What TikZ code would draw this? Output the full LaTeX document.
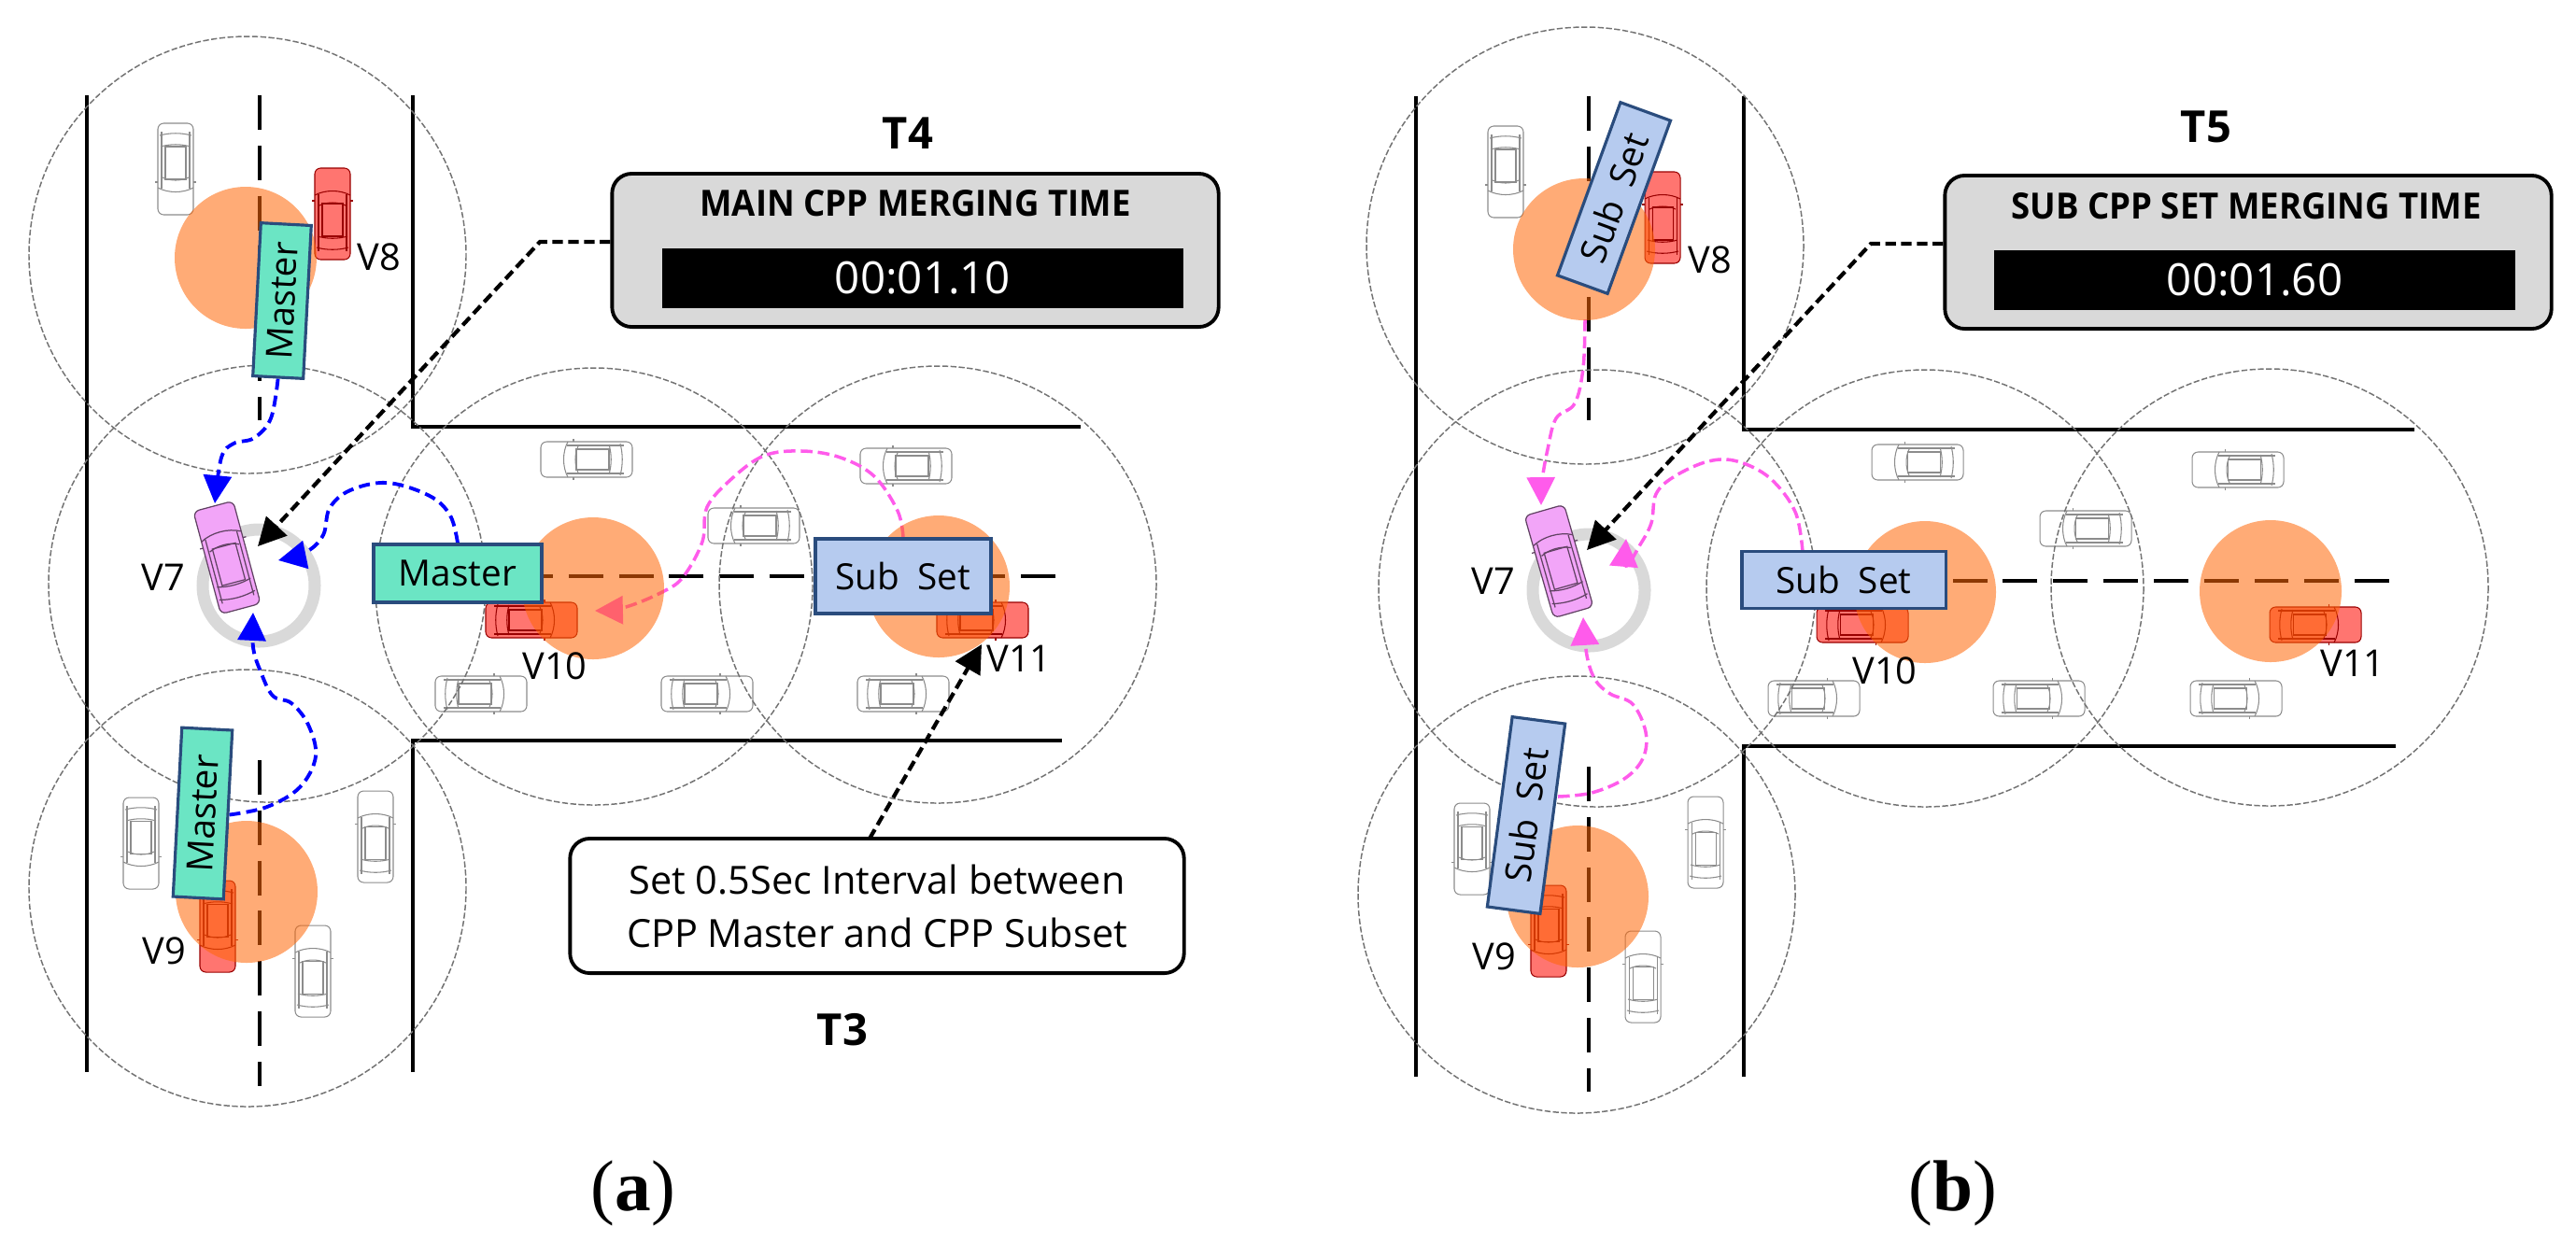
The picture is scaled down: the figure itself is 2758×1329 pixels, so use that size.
\documentclass[tikz,border=0pt]{standalone}
\usepackage{fontspec}
\setmainfont{Open Sans}
\newfontfamily\titlefont[FakeStretch=0.945]{Open Sans}
\newfontfamily\capfont{Liberation Serif}
\usetikzlibrary{arrows.meta, positioning}
\pgfdeclarelayer{front}
\pgfsetlayers{main,front}
\definecolor{boxgreen}{HTML}{6BE5C4}
\definecolor{boxblue}{HTML}{B6CBEF}
\definecolor{boxedge}{HTML}{2A4C7D}
\definecolor{pathpink}{HTML}{FF5BEB}
\definecolor{glow}{HTML}{FF6606}
\definecolor{panelgray}{HTML}{D9D9D9}
\definecolor{carred}{HTML}{FF7570}
\definecolor{carpurple}{HTML}{F2A5F8}
\tikzset{
    car/.pic={
        \draw[pic actions, rounded corners=1.8pt] (-19,-49) rectangle (19,49);
        \draw[pic actions, fill=none] (-15,-21) -- (-15,40) (15,-21) -- (15,40);
        \draw[pic actions, fill=none] (-19,-20) .. controls (-8,-26) and (8,-26) .. (19,-20);
        \draw[pic actions, fill=none] (-14,-9) .. controls (-6,-13) and (6,-13) .. (14,-9);
        \draw[pic actions, fill=none] (-11,-11) rectangle (11,24);
        \draw[pic actions, fill=none] (-16,24) .. controls (-6,27) and (6,27) .. (16,24);
        \draw[pic actions, fill=none] (-17,36) .. controls (-6,39) and (6,39) .. (17,36);
        \draw[pic actions, fill=none] (-22,-14) -- (-19,-14) (19,-14) -- (22,-14);
    }
}
\begin{document}
\begin{tikzpicture}[
        x=0.01cm, y=-0.01cm,
        whitecar/.style={draw=black!45, line width=.3pt},
        redcar/.style={draw=red!60!black, fill=carred, line width=.3pt},
        purplecar/.style={draw=black!60!carpurple, fill=carpurple, line width=.35pt},
        road/.style={line width=1.25pt},
        lane/.style={line width=1.15pt, dash pattern=on 10.5pt off 4.8pt},
        rangecircle/.style={draw=black!55, line width=.42pt, dash pattern=on 1.8pt off .7pt},
        glowspot/.style={fill=glow, fill opacity=.55},
        targetring/.style={draw=panelgray, line width=3.7pt},
        masterbox/.style={draw=boxedge, fill=boxgreen, line width=.9pt, inner sep=0pt, font=\fontsize{11}{13}\selectfont},
        subsetbox/.style={draw=boxedge, fill=boxblue, line width=.9pt, inner sep=0pt, font=\fontsize{11}{13}\selectfont},
        vlabel/.style={inner sep=0pt, font=\fontsize{11.3}{13}\selectfont},
        timelabel/.style={inner sep=0pt, font=\fontsize{13.4}{15}\selectfont\bfseries},
        timebox/.style={draw, fill=panelgray, line width=1.1pt, rounded corners=6pt, minimum width=6.49cm, minimum height=1.64cm},
        timebar/.style={fill=black, text=white, inner sep=0pt, minimum width=5.58cm, minimum height=.635cm, font=\fontsize{13.5}{15}\selectfont},
        timetitle/.style={inner sep=0pt, font=\titlefont\fontsize{11}{13}\selectfont\bfseries},
        notebox/.style={draw, fill=white, line width=1.1pt, rounded corners=6pt, align=center, minimum width=6.57cm, minimum height=1.44cm, inner sep=0pt, font=\fontsize{11.8}{16.2}\selectfont},
        capt/.style={inner sep=0pt, font=\capfont\fontsize{22}{26}\selectfont},
        bluepath/.style={draw=blue, line width=1.1pt, dash pattern=on 3.4pt off 1.8pt, -{Triangle[length=8.5pt,width=8.5pt]}},
        pinkpath/.style={draw=pathpink, line width=1pt, dash pattern=on 3.6pt off 1.6pt, -{Triangle[length=8.5pt,width=8.5pt]}},
        callout/.style={line width=1.2pt, dash pattern=on 3.2pt off 1.6pt, -{Triangle[length=8.5pt,width=8.5pt]}}
    ]
    \useasboundingbox (0,0) rectangle (2758,1329);

    % Boxes sit above everything else
    \begin{pgfonlayer}{front}
        \node[masterbox, rotate=87, minimum width=1.64cm, minimum height=.54cm] (master8) at (302,322) {Master};
        \node[masterbox, rotate=87, minimum width=1.81cm, minimum height=.54cm] (master9) at (217,871) {Master};
        \node[masterbox, minimum width=1.80cm, minimum height=.62cm] (master10) at (490,614) {Master};
        \node[subsetbox, minimum width=1.88cm, minimum height=.80cm] (subset11) at (967,617) {Sub\,\,\,Set};
        \node[subsetbox, rotate=70, minimum width=1.97cm, minimum height=.57cm] (subset8) at (1728,212) {Sub\,\,\,Set};
        \node[subsetbox, rotate=82.5, minimum width=2.05cm, minimum height=.57cm] (subset9) at (1634,873) {Sub\,\,\,Set};
        \node[subsetbox, minimum width=2.18cm, minimum height=.61cm] (subset10) at (1974,621) {Sub\,\,\,Set};

        \node[timebar] (bara) at (988,298) {00:01.10};
        \node[timebar] (barb) at (2414,300) {00:01.60};
    \end{pgfonlayer}

    % Merging time panels
    \node[timebox] (timea) at (980,268) {};
    \node[timebox] (timeb) at (2407,270) {};
    \node[timetitle] (titlea) at (980,218) {MAIN CPP MERGING TIME};
    \node[timetitle] (titleb) at (2405,221) {SUB CPP SET MERGING TIME};
    \node[timelabel] (t4) at (972,143) {T4};
    \node[timelabel] (t5) at (2362,136) {T5};
    \node[timelabel] (t3) at (902,1103) {T3};
    \node[notebox] (note) at (939,970) {Set 0.5Sec Interval between\\CPP Master and CPP Subset};

    % Target rings
    \draw[targetring] (277,627) circle[radius=60];
    \draw[targetring] (1701,632) circle[radius=60];

    % Free ends of the connectors
    \coordinate (v7topa) at (230,539);
    \coordinate (v7sidea) at (298,600);
    \coordinate (v7lowa) at (271,656);
    \coordinate (v10a) at (637,654);
    \coordinate (v7calla) at (276,585);
    \coordinate (kinka) at (578,259);
    \coordinate (v11call) at (1051,690);
    \coordinate (notetop) at (931,898);
    \coordinate (pinkstart) at (1697,342);
    \coordinate (pinkfrom9) at (1668,853);
    \coordinate (pinkfrom10) at (1930,591);
    \coordinate (v7topb) at (1650,541);
    \coordinate (v7sideb) at (1741,577);
    \coordinate (v7lowb) at (1695,661);
    \coordinate (v7callb) at (1699,589);
    \coordinate (kinkb) at (2003,261);

    % Vehicles, panel (a)
    \foreach \cx/\cy/\ca in {188/181/180, 628/492/90, 970/499/90, 807/563/90, 515/743/-90, 757/743/-90, 967/743/-90, 151/903/180, 402/896/0, 335/1040/0}
        \pic[whitecar, rotate=\ca] at (\cx,\cy) {car};
    \foreach \cx/\cy/\ca in {356/229/0, 233/992/180, 569/664/-90, 1052/664/-90}
        \pic[redcar, rotate=\ca] at (\cx,\cy) {car};
    \pic[purplecar, rotate=15, scale=1.16] at (243,597) {car};

    % Vehicles, panel (b)
    \foreach \cx/\cy/\ca in {1612/184/180, 2053/495/90, 2396/503/90, 2233/566/90, 1942/748/-90, 2183/748/-90, 2394/748/-90, 1576/909/180, 1826/902/0, 1759/1046/0}
        \pic[whitecar, rotate=\ca] at (\cx,\cy) {car};
    \foreach \cx/\cy/\ca in {1780/233/0, 1658/997/180, 1994/669/-90, 2479/669/-90}
        \pic[redcar, rotate=\ca] at (\cx,\cy) {car};
    \pic[purplecar, rotate=16, scale=1.16] at (1669,601) {car};

    % Roads, panel (a)
    \draw[road] (93,102) -- (93,1148);
    \draw[road] (442,102) -- (442,457) -- (1157,457);
    \draw[road] (442,1148) -- (442,793) -- (1137,793);
    \draw[lane] (278,102) -- (278,450);
    \draw[lane] (278,814) -- (278,1163);
    \draw[lane] (1130,617) -- (580,617);

    % Roads, panel (b)
    \draw[road] (1516,103) -- (1516,1153);
    \draw[road] (1867,103) -- (1867,460) -- (2585,460);
    \draw[road] (1867,1153) -- (1867,799) -- (2565,799);
    \draw[lane] (1701,103) -- (1701,450);
    \draw[lane] (1701,821) -- (1701,1169);
    \draw[lane] (2558,622) -- (2083,622);

    % Radio ranges
    \foreach \cx/\cy in {265/273, 286/625, 265/951, 636/628, 1004/626, 1697/263, 1710/630, 1688/958, 2061/630, 2430/629}
        \draw[rangecircle] (\cx,\cy) circle[radius=234];

    % Merge paths, panel (a)
    \draw[bluepath] plot[smooth, tension=.6] coordinates {(master8.west) (290,448) (272,469) (250,475) (237,490) (v7topa)};
    \draw[bluepath] plot[smooth, tension=.6] coordinates {(master10.north) (482,552) (460,531) (415,517) (375,525) (353,544) (346,573) (328,591) (v7sidea)};
    \draw[bluepath] plot[smooth, tension=.6] coordinates {(master9.south) (286,864) (321,843) (338,810) (330,776) (312,753) (292,745) (279,719) (271,693) (v7lowa)};
    \draw[pinkpath] plot[smooth, tension=.6] coordinates {(subset11.north) (961,547) (936,510) (900,490) (859,483) (818,488) (783,513) (757,543) (752,580) (732,617) (711,633) (670,650) (v10a)};

    % Merge paths, panel (b)
    \draw[pinkpath] plot[smooth, tension=.6] coordinates {(pinkstart) (1695,394) (1686,432) (1666,448) (1657,481) (1651,515) (v7topb)};
    \draw[pinkpath] plot[smooth, tension=.6] coordinates {(pinkfrom10) (1922,548) (1895,512) (1860,494) (1829,494) (1793,510) (1773,529) (1768,560) (1755,585) (1741,606) (v7sideb)};
    \draw[pinkpath] plot[smooth, tension=.6] coordinates {(pinkfrom9) (1704,849) (1739,834) (1759,812) (1762,784) (1748,754) (1724,743) (1708,728) (1699,702) (v7lowb)};

    % Callouts
    \draw[callout] (timea.west |- kinka) -- (kinka) -- (v7calla);
    \draw[callout] (timeb.west |- kinkb) -- (kinkb) -- (v7callb);
    \draw[callout] (notetop) -- (v11call);

    % Vehicle spots, over roads and paths
    \foreach \cx/\cy in {263/276, 264/955, 635/630, 1005/628, 1696/267, 1689/960, 2061/634, 2431/633}
        \fill[glowspot] (\cx,\cy) circle[radius=76];

    % Vehicle names
    \node[vlabel] (v8a) at (406,275) {V8};
    \node[vlabel] (v7a) at (175,618) {V7};
    \node[vlabel] (v9a) at (176,1018) {V9};
    \node[vlabel] (v10aname) at (594,713) {V10};
    \node[vlabel] (v11a) at (1091,705) {V11};
    \node[vlabel] (v8b) at (1831,278) {V8};
    \node[vlabel] (v7b) at (1599,622) {V7};
    \node[vlabel] (v9b) at (1600,1024) {V9};
    \node[vlabel] (v10b) at (2018,718) {V10};
    \node[vlabel] (v11b) at (2519,710) {V11};

    % Captions
    \node[capt] (capa) at (678,1278) {(\textbf{a})};
    \node[capt] (capb) at (2091,1278) {(\textbf{b})};
\end{tikzpicture}
\end{document}
